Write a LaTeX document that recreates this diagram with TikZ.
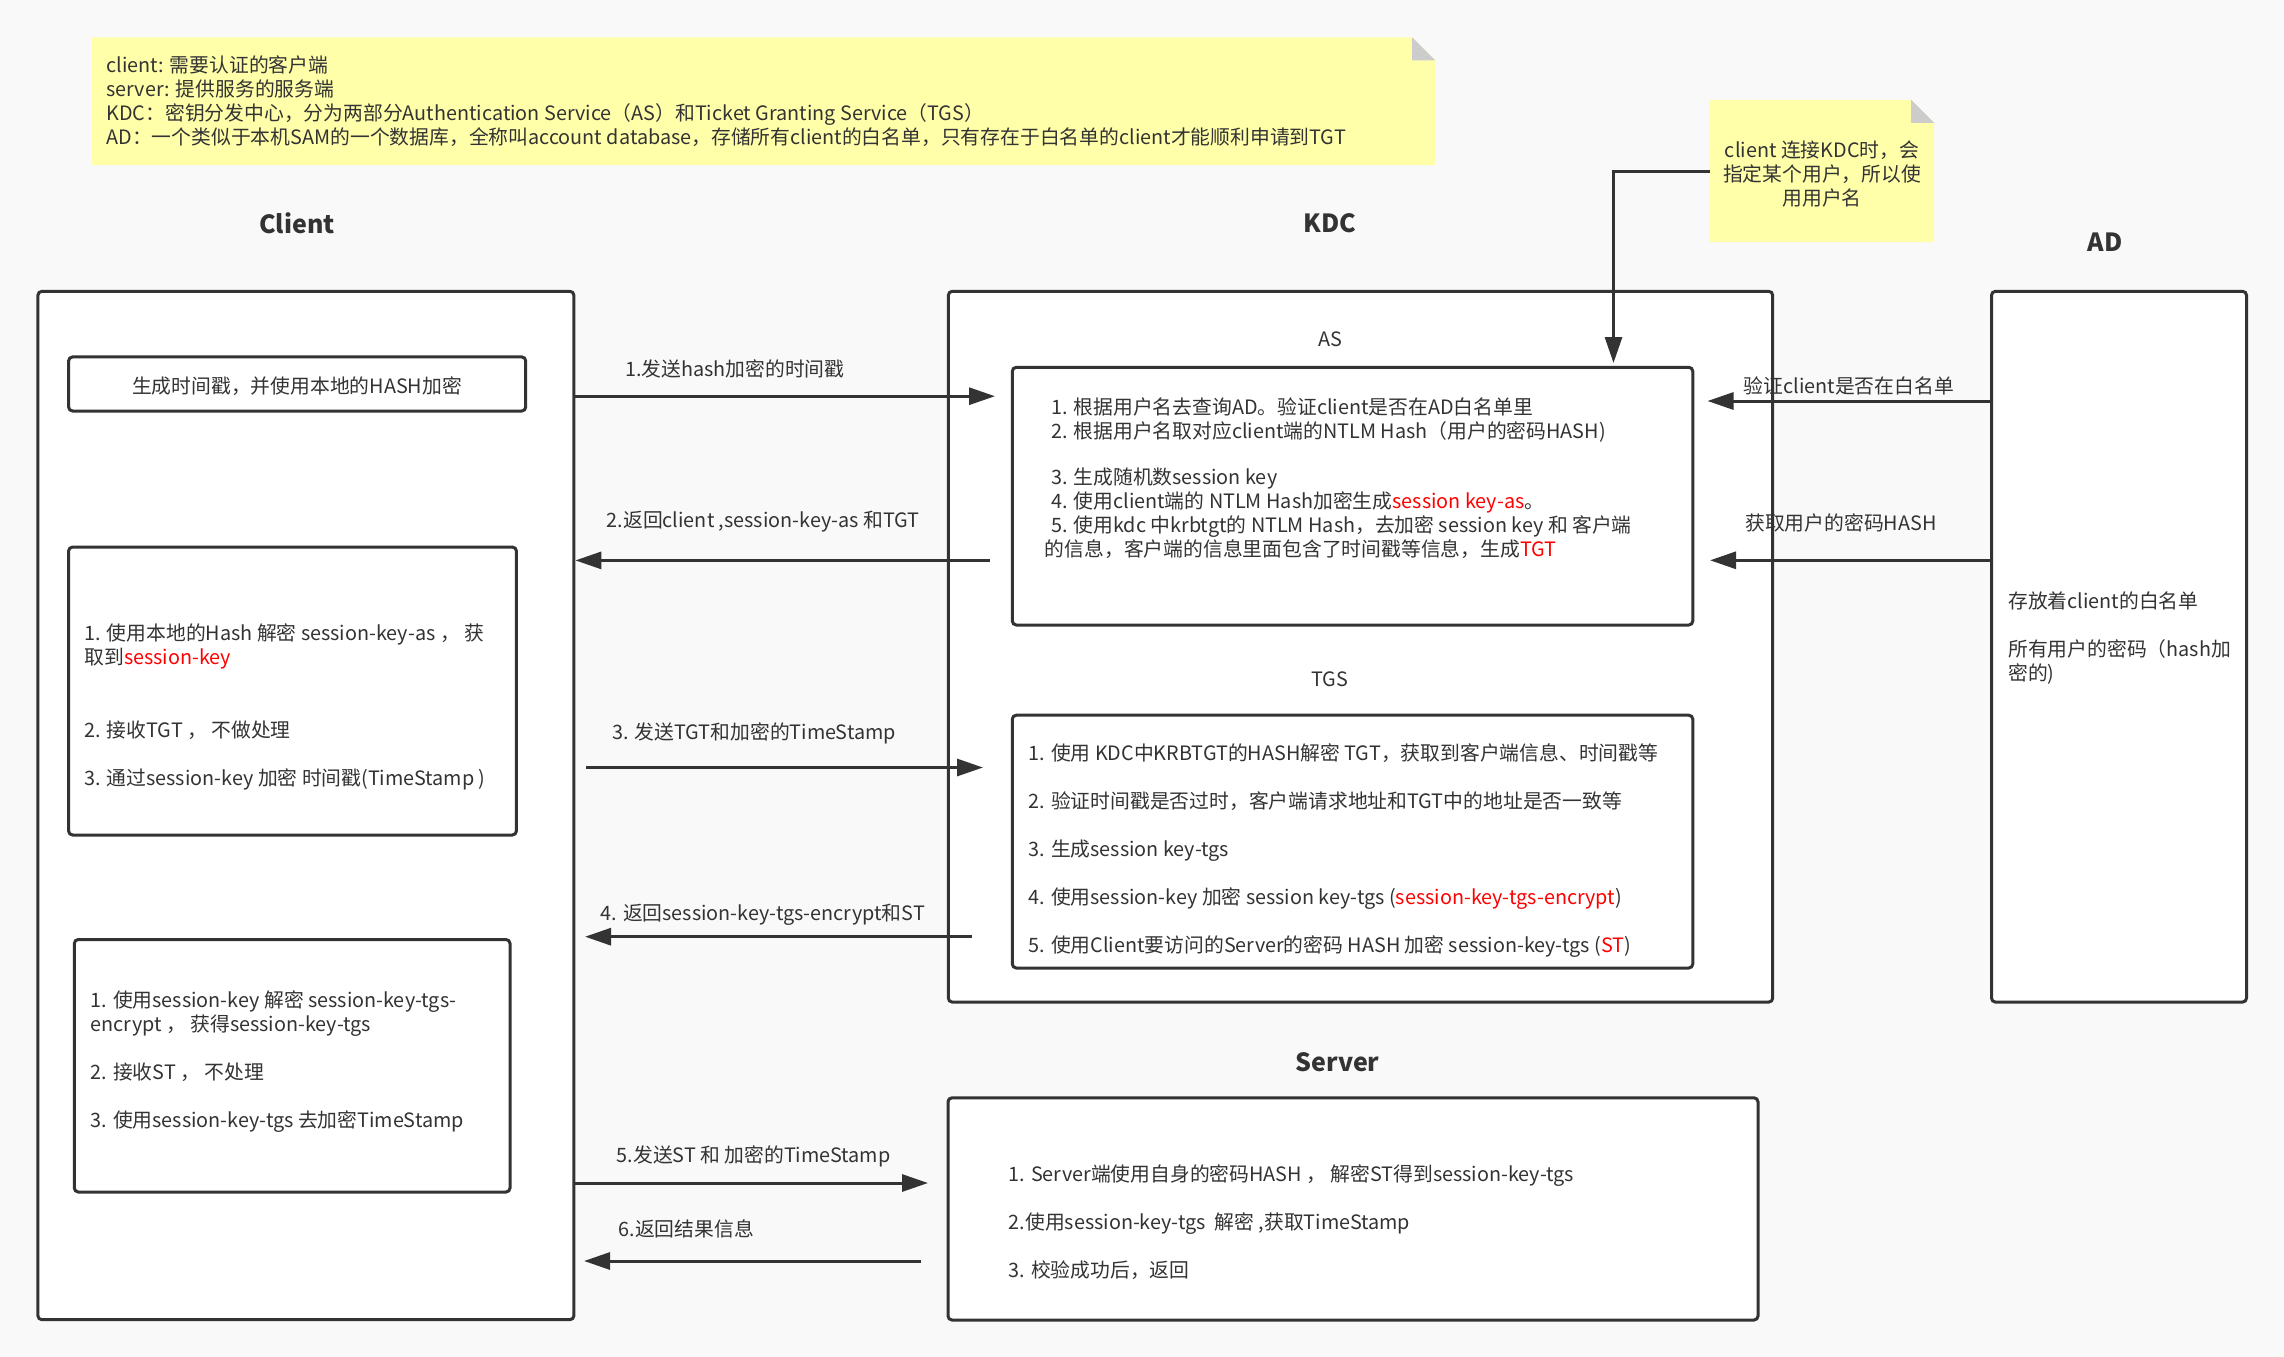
\documentclass[tikz,border=0pt]{standalone}
\usepackage{fontspec}
\setmainfont{Noto Sans CJK SC}
\usetikzlibrary{arrows.meta,fit,calc}
\definecolor{ink}{HTML}{333333}
\definecolor{bg}{HTML}{F9F9F9}
\definecolor{notey}{HTML}{FFFFAA}
\definecolor{foldc}{HTML}{CCCCCC}
\definecolor{hl}{HTML}{FF0000}
\newcommand{\hlt}[1]{\textcolor{hl}{#1}}
\begin{document}
\begin{tikzpicture}[x=1pt,y=-1pt,
  box/.style={draw=ink, line width=3pt, fill=white, rounded corners=4pt, inner sep=0pt},
  area/.style={inner sep=0pt},
  txt/.style={text=ink, font=\fontsize{19.8}{24}\selectfont, inner sep=0pt, align=left},
  ctxt/.style={text=ink, font=\fontsize{19.8}{24}\selectfont, inner sep=0pt, align=center},
  ttl/.style={text=ink, font=\fontsize{25}{30}\selectfont\bfseries, inner sep=0pt},
  arr/.style={draw=ink, line width=3pt, -{Triangle[length=26pt,width=17pt]}},
]
\fill[bg] (0,0) rectangle (2284,1357);
\useasboundingbox (0,0) rectangle (2284,1357);

% ---------- notes ----------
\node[area, fit={(91.8,37.6) (1435,165)}] (note1) {};
\fill[notey] (note1.north west) -- ([xshift=-23pt]note1.north east) -- ([yshift=-23pt]note1.north east) -- (note1.south east) -- (note1.south west) -- cycle;
\fill[foldc] ([xshift=-23pt]note1.north east) -- ([xshift=-23pt,yshift=-23pt]note1.north east) -- ([yshift=-23pt]note1.north east) -- cycle;
\node[txt, anchor=north west] (note1t) at (106.3,55.6) {client: 需要认证的客户端\\server: 提供服务的服务端\\KDC：密钥分发中心，分为两部分Authentication Service（AS）和Ticket Granting Service（TGS）\\AD：一个类似于本机SAM的一个数据库，全称叫account database，存储所有client的白名单，只有存在于白名单的client才能顺利申请到TGT};

\node[area, fit={(1710,100) (1934,242)}] (note2) {};
\fill[notey] (note2.north west) -- ([xshift=-23pt]note2.north east) -- ([yshift=-23pt]note2.north east) -- (note2.south east) -- (note2.south west) -- cycle;
\fill[foldc] ([xshift=-23pt]note2.north east) -- ([xshift=-23pt,yshift=-23pt]note2.north east) -- ([yshift=-23pt]note2.north east) -- cycle;
\node[ctxt] (note2t) at (1822,174.5) {client 连接KDC时，会\\指定某个用户，所以使\\用用户名};

% ---------- titles ----------
\node[ttl] (tclient) at (297,223) {Client};
\node[ttl] (tkdc) at (1330,223) {KDC};
\node[ttl] (tad) at (2105,242.5) {AD};
\node[ttl] (tserver) at (1337.5,1062.3) {Server};

% ---------- boxes ----------
\node[box, fit={(37.9,291.3) (573.9,1319.7)}] (client) {};
\node[box, fit={(68.6,356.9) (525.7,411)}] (c1) {};
\node[box, fit={(68.6,547) (516.4,835)}] (c2) {};
\node[box, fit={(74.3,939.5) (510,1192)}] (c3) {};
\node[box, fit={(948.3,291.3) (1772.7,1002.1)}] (kdc) {};
\node[box, fit={(1012.3,367.3) (1692.8,625)}] (as) {};
\node[box, fit={(1012.3,715.2) (1692.8,968)}] (tgs) {};
\node[box, fit={(1991.5,291.3) (2246.5,1002.1)}] (ad) {};
\node[box, fit={(948,1097.8) (1758,1320)}] (server) {};

\node[txt] (lAS) at (1330,339.4) {AS};
\node[txt] (lTGS) at (1330,679) {TGS};

% ---------- box texts ----------
\node[txt] (c1t) at (297,386) {生成时间戳，并使用本地的HASH加密};
\node[txt, anchor=north west] (c2t) at (84.3,623.7) {1. 使用本地的Hash 解密 session-key-as ， 获\\取到\hlt{session-key}\\[49pt]2. 接收TGT ， 不做处理\\[24pt]3. 通过session-key 加密 时间戳(TimeStamp )};
\node[txt, anchor=north west] (c3t) at (90.5,990.8) {1. 使用session-key 解密 session-key-tgs-\\encrypt ， 获得session-key-tgs\\[24pt]2. 接收ST ， 不处理\\[24pt]3. 使用session-key-tgs 去加密TimeStamp};
\node[txt, anchor=north west] (ast) at (1044.6,397.9) {\hspace*{6.5pt}1. 根据用户名去查询AD。验证client是否在AD白名单里\\\hspace*{6.5pt}2. 根据用户名取对应client端的NTLM Hash（用户的密码HASH)\\[22pt]\hspace*{6.5pt}3. 生成随机数session key\\\hspace*{6.5pt}4. 使用client端的 NTLM Hash加密生成\hlt{session key-as}。\\\hspace*{6.5pt}5. 使用kdc 中krbtgt的 NTLM Hash，去加密 session key 和 客户端\\的信息，客户端的信息里面包含了时间戳等信息，生成\hlt{TGT}};
\node[txt, anchor=north west] (tgst) at (1028.4,743.1) {1. 使用 KDC中KRBTGT的HASH解密 TGT，获取到客户端信息、时间戳等\\[24pt]2. 验证时间戳是否过时，客户端请求地址和TGT中的地址是否一致等\\[24pt]3. 生成session key-tgs\\[24pt]4. 使用session-key 加密 session key-tgs (\hlt{session-key-tgs-encrypt})\\[24pt]5. 使用Client要访问的Server的密码 HASH 加密 session-key-tgs (\hlt{ST})};
\node[txt, anchor=north west] (adt) at (2008,591.7) {存放着client的白名单\\[24pt]所有用户的密码（hash加\\密的)};
\node[txt, anchor=north west] (servert) at (1008.5,1164.1) {1. Server端使用自身的密码HASH ， 解密ST得到session-key-tgs\\[24pt]2.使用session-key-tgs \ 解密 ,获取TimeStamp\\[24pt]3. 校验成功后，返回};

% ---------- connector end points ----------
\coordinate (a1e) at (995,396.2);
\coordinate (a2s) at (990,560.4);
\coordinate (a3s) at (586,767.5);
\coordinate (a3e) at (983,767.5);
\coordinate (a4s) at (971.7,936.7);
\coordinate (a4e) at (585,936.7);
\coordinate (a5e) at (928,1183);
\coordinate (a6s) at (920.7,1261);
\coordinate (a6e) at (584,1261);
\coordinate (d1e) at (1707.5,401);
\coordinate (d2e) at (1710,560.3);
\coordinate (n2y) at (1710,171.7);
\coordinate (n2tip) at (1613.5,363);

% ---------- connectors ----------
\draw[arr] (client.east |- a1e) -- (a1e);
\draw[arr] (a2s) -- (client.east |- a2s);
\draw[arr] (a3s) -- (a3e);
\draw[arr] (a4s) -- (a4e);
\draw[arr] (client.east |- a5e) -- (a5e);
\draw[arr] (a6s) -- (a6e);
\draw[arr] (ad.west |- d1e) -- (d1e);
\draw[arr] (ad.west |- d2e) -- (d2e);
\draw[arr] (note2.west |- n2y) -| (n2tip);

% ---------- connector labels ----------
\node[txt, anchor=west] (l1) at (625,368.5) {1.发送hash加密的时间戳};
\node[txt, anchor=west] (l2) at (606.5,522) {2.返回client ,session-key-as 和TGT};
\node[txt, anchor=west] (l3) at (612,733) {3. 发送TGT和加密的TimeStamp};
\node[txt, anchor=west] (l4) at (600.5,914.5) {4. 返回session-key-tgs-encrypt和ST};
\node[txt, anchor=west] (l5) at (616.5,1156) {5.发送ST 和 加密的TimeStamp};
\node[txt, anchor=west] (l6) at (618.5,1229) {6.返回结果信息};
\node[txt, anchor=west] (ld1) at (1743.6,386) {验证client是否在白名单};
\node[txt, anchor=west] (ld2) at (1745,522.5) {获取用户的密码HASH};
\end{tikzpicture}
\end{document}
